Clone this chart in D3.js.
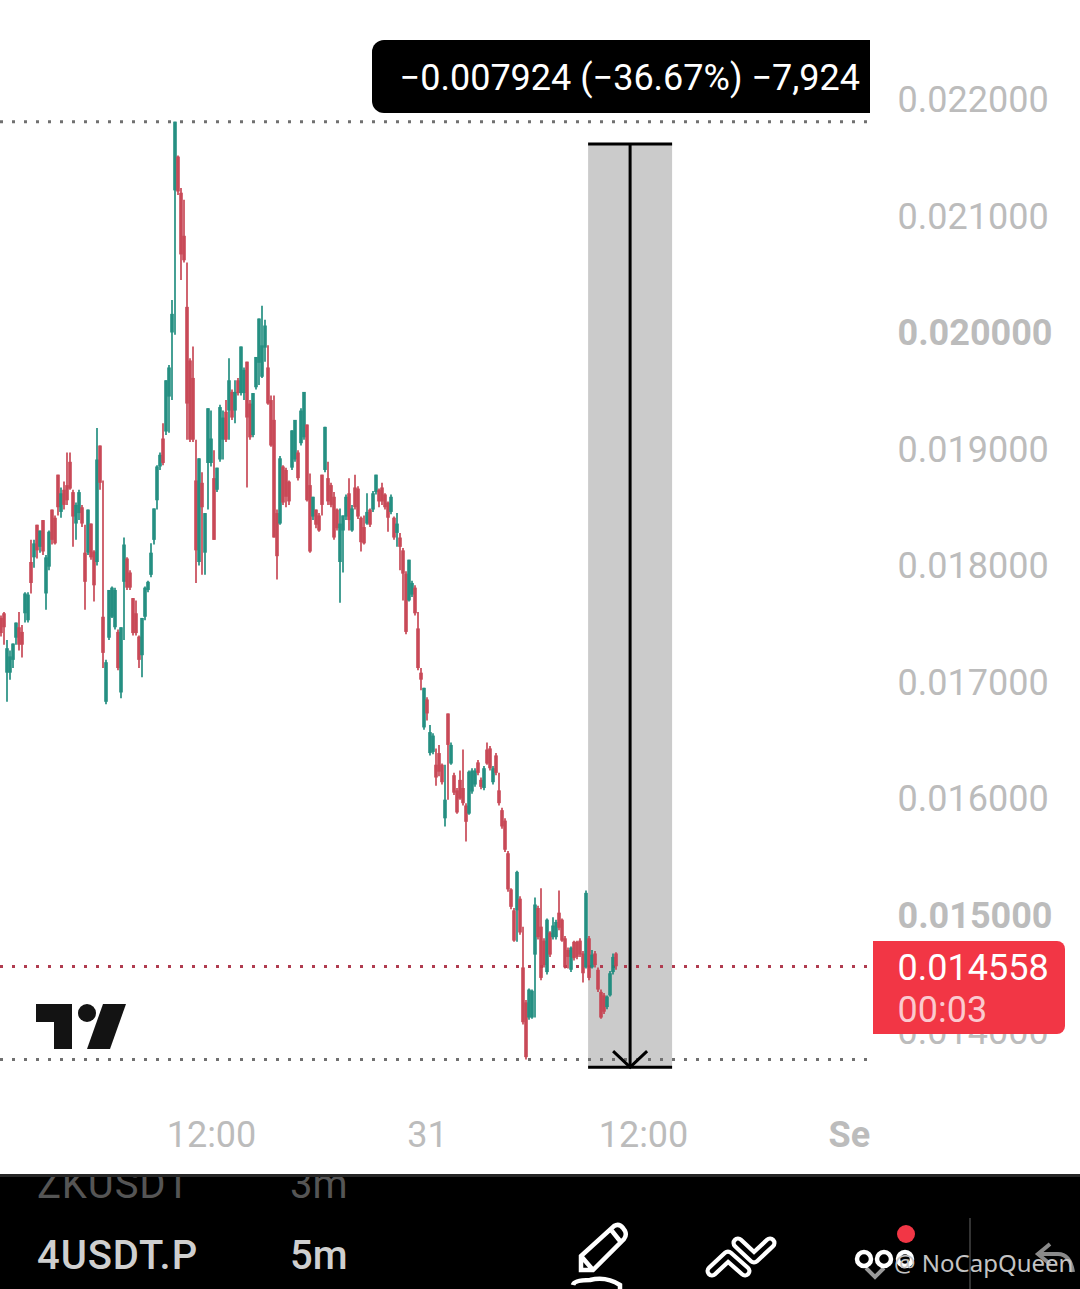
<!DOCTYPE html>
<html>
<head>
<meta charset="utf-8">
<script src="https://cdn.jsdelivr.net/npm/d3@7"></script>
<style>
  html, body { margin: 0; padding: 0; background: #fff; }
  svg { display: block; font-family: Roboto, sans-serif; }
</style>
</head>
<body>
<div id="chart"></div>
<script>
// candles, one every two 5m bars, prices in units of 0.00001
var opens = [
  1755,1759,1708,1708,1719,1738,1747,1743,1759,1753,
  1803,1807,1835,1816,1839,1776,1799,1848,1841,1878,
  1846,1865,1869,1889,1863,1836,1845,1850,1811,1811,
  1836,1812,1803,1903,1756,1683,1738,1756,1747,1743,
  1691,1786,1806,1794,1772,1759,1739,1723,1756,1779,
  1792,1822,1856,1885,1909,1915,1945,2000,2122,2151,
  2120,2083,2022,1976,1961,1873,1803,1871,1811,1888,
  1888,1875,1865,1891,1908,1932,1933,1949,1933,1959,
  1948,1948,1975,1939,1912,1953,1974,1962,1987,1970,
  1942,1925,1845,1836,1885,1882,1872,1884,1891,1897,
  1905,1910,1921,1869,1842,1848,1843,1878,1882,1875,
  1869,1859,1848,1803,1830,1842,1862,1830,1867,1866,
  1841,1833,1836,1848,1848,1863,1865,1867,1861,1854,
  1846,1841,1828,1824,1813,1793,1770,1775,1781,1746,
  1708,1661,1685,1639,1640,1629,1639,1629,1583,1673,
  1630,1620,1607,1616,1609,1594,1587,1606,1612,1631,
  1616,1609,1642,1643,1614,1637,1607,1590,1581,1553,
  1522,1504,1504,1514,1455,1425,1412,1412,1466,1506,
  1490,1478,1451,1485,1481,1481,1502,1496,1480,1470,
  1453,1477,1477,1478,1467,1455,1480,1455,1467,1453,
  1434,1431,1421,1431,1451,1467
];
var highs = [
  1757,1760,1736,1727,1733,1751,1760,1749,1777,1777,
  1822,1822,1835,1830,1839,1809,1830,1848,1843,1878,
  1867,1872,1897,1897,1865,1854,1865,1852,1835,1848,
  1836,1813,1918,1903,1873,1719,1779,1782,1781,1745,
  1747,1824,1807,1796,1772,1770,1740,1755,1782,1787,
  1819,1849,1886,1897,1922,1959,1972,2028,2181,2152,
  2124,2114,2060,1978,1988,1908,1892,1880,1845,1935,
  1933,1899,1884,1938,1933,1942,1978,1951,1959,1961,
  1988,1970,1975,1942,1948,1979,2012,2023,2011,1989,
  1946,1946,1848,1894,1886,1884,1873,1916,1925,1899,
  1935,1949,1921,1879,1859,1848,1845,1878,1919,1889,
  1871,1863,1849,1849,1843,1861,1875,1852,1878,1868,
  1842,1843,1862,1849,1864,1878,1866,1871,1862,1855,
  1861,1842,1845,1828,1815,1795,1805,1787,1783,1760,
  1712,1695,1687,1663,1656,1643,1646,1630,1629,1673,
  1648,1622,1609,1624,1642,1596,1624,1626,1626,1633,
  1618,1628,1648,1645,1628,1639,1622,1592,1583,1555,
  1523,1506,1538,1516,1490,1427,1437,1436,1515,1508,
  1523,1480,1497,1486,1498,1496,1521,1497,1482,1472,
  1473,1478,1478,1480,1469,1521,1482,1470,1469,1455,
  1436,1433,1431,1452,1467,1468
];
var lows = [
  1739,1732,1683,1702,1712,1732,1727,1721,1751,1751,
  1776,1798,1806,1811,1809,1762,1796,1818,1818,1843,
  1841,1848,1852,1865,1816,1822,1839,1833,1762,1809,
  1805,1769,1800,1865,1712,1681,1736,1755,1745,1710,
  1686,1736,1779,1779,1740,1740,1712,1704,1753,1777,
  1790,1818,1848,1882,1886,1912,1914,1942,1998,2118,
  2045,2060,1908,1906,1906,1785,1800,1792,1792,1848,
  1885,1822,1863,1889,1891,1906,1908,1925,1922,1946,
  1946,1942,1867,1908,1910,1951,1955,1961,1975,1938,
  1902,1824,1788,1835,1852,1850,1852,1882,1889,1873,
  1903,1908,1855,1811,1839,1832,1829,1843,1880,1852,
  1850,1822,1830,1768,1794,1839,1830,1829,1848,1840,
  1812,1818,1835,1833,1846,1861,1850,1852,1848,1829,
  1844,1822,1816,1796,1770,1741,1769,1773,1757,1710,
  1693,1659,1667,1637,1638,1611,1619,1612,1576,1599,
  1629,1603,1587,1599,1594,1563,1586,1604,1610,1620,
  1608,1607,1629,1624,1612,1620,1594,1574,1554,1520,
  1505,1477,1477,1483,1406,1376,1410,1411,1412,1479,
  1444,1455,1449,1464,1479,1479,1487,1477,1454,1454,
  1451,1461,1462,1464,1442,1454,1444,1454,1455,1434,
  1411,1415,1419,1430,1449,1453
];
var closes = [
  1742,1747,1729,1722,1733,1751,1732,1732,1776,1775,
  1785,1819,1813,1830,1812,1807,1829,1822,1819,1850,
  1862,1852,1856,1866,1842,1852,1863,1836,1786,1848,
  1807,1783,1891,1871,1725,1717,1779,1781,1779,1712,
  1747,1818,1781,1781,1742,1742,1719,1755,1781,1786,
  1811,1849,1885,1895,1888,1959,1970,2016,2181,2121,
  2067,2062,1939,1908,1908,1813,1892,1850,1845,1935,
  1909,1822,1884,1936,1927,1908,1959,1927,1949,1948,
  1988,1968,1927,1910,1948,1979,2012,1989,2006,1939,
  1903,1824,1808,1892,1854,1859,1855,1916,1925,1875,
  1933,1949,1856,1812,1859,1835,1830,1852,1919,1855,
  1852,1824,1832,1836,1843,1859,1839,1849,1850,1842,
  1820,1819,1846,1835,1862,1878,1855,1855,1850,1841,
  1859,1824,1836,1816,1793,1743,1805,1785,1759,1712,
  1702,1695,1673,1657,1654,1618,1623,1614,1599,1646,
  1646,1605,1588,1600,1596,1580,1623,1624,1624,1622,
  1610,1626,1630,1626,1626,1622,1596,1576,1556,1522,
  1507,1478,1537,1485,1408,1378,1436,1435,1509,1481,
  1446,1457,1496,1466,1491,1494,1489,1478,1455,1464,
  1472,1463,1464,1466,1450,1519,1446,1466,1457,1436,
  1412,1417,1430,1450,1464,1456
];
var priceUnit = 0.00001;

// axis labels
var priceTicks = [0.022, 0.021, 0.02, 0.019, 0.018, 0.017, 0.016, 0.015, 0.014];
var boldPrices = [0.02, 0.015];
var timeTicks = [70, 142, 214, 286];
var timeLabels = ["12:00", "31", "12:00", "Sep"];

// price lines and measure tool
var highPrice = 0.02181, lowPrice = 0.01376, lastPrice = 0.014558;
var measureTop = 0.021618, measureBottom = 0.013694;
var measureFrom = 195.7, measureTo = 223.7;
var measureText = "\u22120.007924 (\u221236.67%) \u22127,924";
var lastText = "0.014558", countdownText = "00:03";
var symbols = ["ZKUSDT", "4USDT.P"], intervals = ["3m", "5m"];
var watermark = "@ NoCapQueen";

var width = 1080, height = 1289, paneRight = 870;

var svg = d3.select("#chart").append("svg")
  .attr("width", width)
  .attr("height", height);

svg.append("defs").append("clipPath").attr("id", "pane")
  .append("rect").attr("x", 0).attr("y", 0).attr("width", paneRight).attr("height", 1174);
svg.select("defs").append("clipPath").attr("id", "bar")
  .append("rect").attr("x", 0).attr("y", 1177).attr("width", width).attr("height", 112);

var x = d3.scaleLinear().domain([0, 205]).range([1, 616]);
var y = d3.scaleLinear().domain([0.022, 0.014]).range([99.5, 1031.5]);

// price axis
var yAxis = svg.append("g")
  .attr("transform", "translate(897.5,0.5)")
  .call(d3.axisRight(y).tickValues(priceTicks).tickFormat(d3.format(".6f")).tickSize(0).tickPadding(0));
yAxis.select(".domain").remove();
yAxis.selectAll("text")
  .style("font-family", "Roboto")
  .style("font-size", "36px")
  .style("fill", "#bcbcbc")
  .style("font-weight", function (d) { return boldPrices.indexOf(d) >= 0 ? 700 : 400; });

// time axis
var xAxis = svg.append("g")
  .attr("clip-path", "url(#pane)")
  .append("g")
  .attr("transform", "translate(0,1121)")
  .call(d3.axisBottom(x).tickValues(timeTicks)
    .tickFormat(function (d, i) { return timeLabels[i]; }).tickSize(0).tickPadding(0));
xAxis.select(".domain").remove();
xAxis.selectAll("text")
  .style("font-family", "Roboto")
  .style("font-size", "36px")
  .style("fill", "#bcbcbc")
  .style("font-weight", function (d, i) { return timeLabels[i] === "Sep" ? 700 : 400; });

// measure tool background
svg.append("rect")
  .attr("x", x(measureFrom))
  .attr("y", y(measureTop))
  .attr("width", x(measureTo) - x(measureFrom))
  .attr("height", y(measureBottom) - y(measureTop))
  .attr("fill", "#cbcbcb");

// dotted price lines
var priceLines = [
  { value: highPrice, color: "#707070" },
  { value: lowPrice, color: "#707070" },
  { value: lastPrice, color: "#b03c50" }
];
svg.append("g").selectAll("line")
  .data(priceLines)
  .enter().append("line")
  .attr("x1", 0)
  .attr("x2", paneRight)
  .attr("y1", function (d) { return y(d.value); })
  .attr("y2", function (d) { return y(d.value); })
  .attr("stroke", function (d) { return d.color; })
  .attr("stroke-width", 3)
  .attr("stroke-dasharray", "3 9");

// candles
var candles = opens.map(function (o, i) {
  return { i: i, o: o * priceUnit, h: highs[i] * priceUnit, l: lows[i] * priceUnit, c: closes[i] * priceUnit };
});
var upColor = "#1a8a7c", downColor = "#c6404f";
function candleColor(d) { return d.c >= d.o ? upColor : downColor; }

var candle = svg.append("g").attr("opacity", 0.95).selectAll("g")
  .data(candles)
  .enter().append("g");
candle.append("line")
  .attr("x1", function (d) { return x(d.i); })
  .attr("x2", function (d) { return x(d.i); })
  .attr("y1", function (d) { return y(d.h); })
  .attr("y2", function (d) { return y(d.l); })
  .attr("stroke", candleColor)
  .attr("stroke-width", 1.7);
candle.append("rect")
  .attr("x", function (d) { return x(d.i) - 1.8; })
  .attr("width", 3.6)
  .attr("y", function (d) { return y(Math.max(d.o, d.c)); })
  .attr("height", function (d) { return Math.max(1, Math.abs(y(d.o) - y(d.c))); })
  .attr("fill", candleColor);

// measure tool lines and arrow head
var mid = (x(measureFrom) + x(measureTo)) / 2;
var measure = svg.append("g").attr("stroke", "#000").attr("stroke-width", 3).attr("fill", "none");
[measureTop, measureBottom].forEach(function (p) {
  measure.append("line")
    .attr("x1", x(measureFrom)).attr("x2", x(measureTo))
    .attr("y1", y(p)).attr("y2", y(p));
});
measure.append("line")
  .attr("x1", mid).attr("x2", mid)
  .attr("y1", y(measureTop)).attr("y2", y(measureBottom));
measure.append("path")
  .attr("d", "M" + (mid - 17) + "," + (y(measureBottom) - 16) + "L" + mid + "," + y(measureBottom) + "L" + (mid + 17) + "," + (y(measureBottom) - 16));

// measure label, runs under the price scale on its right end
var label = svg.append("g").attr("clip-path", "url(#pane)");
label.append("rect")
  .attr("x", 372).attr("y", 40).attr("width", 530).attr("height", 73)
  .attr("rx", 12)
  .attr("fill", "#000");
label.append("text")
  .attr("x", 860).attr("y", 90)
  .attr("text-anchor", "end")
  .style("font-size", "36px")
  .style("fill", "#fff")
  .text(measureText);

// last price label
svg.append("path")
  .attr("d", "M873,941H1057a8,8 0 0 1 8,8V1026a8,8 0 0 1 -8,8H873Z")
  .attr("fill", "#f23645");
svg.append("text")
  .attr("x", 897.5).attr("y", 979.5)
  .style("font-size", "36px")
  .style("fill", "#fff")
  .text(lastText);
svg.append("text")
  .attr("x", 897.5).attr("y", 1022)
  .style("font-size", "36px")
  .style("fill", "#fbc9ce")
  .text(countdownText);

// tradingview logo
var logo = svg.append("g").attr("fill", "#131313");
logo.append("path").attr("d", "M36,1004H72V1049H54V1022H36Z");
logo.append("circle").attr("cx", 87).attr("cy", 1013).attr("r", 9);
logo.append("path").attr("d", "M103,1004H126L110,1049H87Z");

// bottom toolbar
svg.append("rect").attr("x", 0).attr("y", 1174).attr("width", width).attr("height", 115).attr("fill", "#000");
svg.append("rect").attr("x", 0).attr("y", 1174).attr("width", width).attr("height", 3).attr("fill", "#262626");

var toolbar = svg.append("g").attr("clip-path", "url(#bar)");
var rowColor = ["#555555", "#cfcfcf"], rowWeight = [400, 500], rowY = [1198, 1269];
symbols.forEach(function (s, i) {
  toolbar.append("text").attr("x", 37).attr("y", rowY[i])
    .style("font-size", "40px").style("letter-spacing", "0.9px").style("font-weight", rowWeight[i]).style("fill", rowColor[i]).text(s);
  toolbar.append("text").attr("x", 290).attr("y", rowY[i])
    .style("font-size", "40px").style("font-weight", rowWeight[i]).style("fill", rowColor[i]).text(intervals[i]);
});

// pencil
toolbar.append("path")
  .attr("d", "M581,1270V1256L614,1226Q619,1223 623,1228L625,1231Q627,1235 624,1239L593,1270ZM581,1256L593,1270M612,1231L620,1241")
  .attr("fill", "none").attr("stroke", "#fff").attr("stroke-width", 4.5);
toolbar.append("path")
  .attr("d", "M573,1285Q574,1280 590,1280Q606,1276 620,1285V1292")
  .attr("fill", "none").attr("stroke", "#fff").attr("stroke-width", 4.5);

// trend tools, outlined chevrons
[["M712,1271L728,1256L745,1271"], ["M738,1243L754,1258L770,1243"]].forEach(function (d) {
  toolbar.append("path").attr("d", d[0]).attr("fill", "none").attr("stroke", "#fff")
    .attr("stroke-width", 13).attr("stroke-linecap", "round").attr("stroke-linejoin", "round");
  toolbar.append("path").attr("d", d[0]).attr("fill", "none").attr("stroke", "#000")
    .attr("stroke-width", 4.5).attr("stroke-linecap", "round").attr("stroke-linejoin", "round");
});

// pattern tool
toolbar.append("path").attr("d", "M866,1268L875,1277L884,1268").attr("fill", "none").attr("stroke", "#9a9a9a").attr("stroke-width", 4);
[864, 884, 905].forEach(function (cx) {
  toolbar.append("circle").attr("cx", cx).attr("cy", 1259).attr("r", 7)
    .attr("fill", "none").attr("stroke", "#fff").attr("stroke-width", 4.5);
});
toolbar.append("circle").attr("cx", 906).attr("cy", 1234).attr("r", 9).attr("fill", "#f23645");

// divider and undo arrow
toolbar.append("line").attr("x1", 970).attr("x2", 970).attr("y1", 1218).attr("y2", 1289).attr("stroke", "#333").attr("stroke-width", 2);
toolbar.append("path")
  .attr("d", "M1050,1244L1038,1254L1050,1264M1038,1254H1058Q1070,1254 1073,1272")
  .attr("fill", "none").attr("stroke", "#8a8a8a").attr("stroke-width", 4);

// watermark
svg.append("text")
  .attr("x", 894).attr("y", 1272)
  .style("font-family", "'Noto Sans'")
  .style("font-size", "24px")
  .style("fill", "#c4c4c4")
  .text(watermark);
</script>
</body>
</html>
